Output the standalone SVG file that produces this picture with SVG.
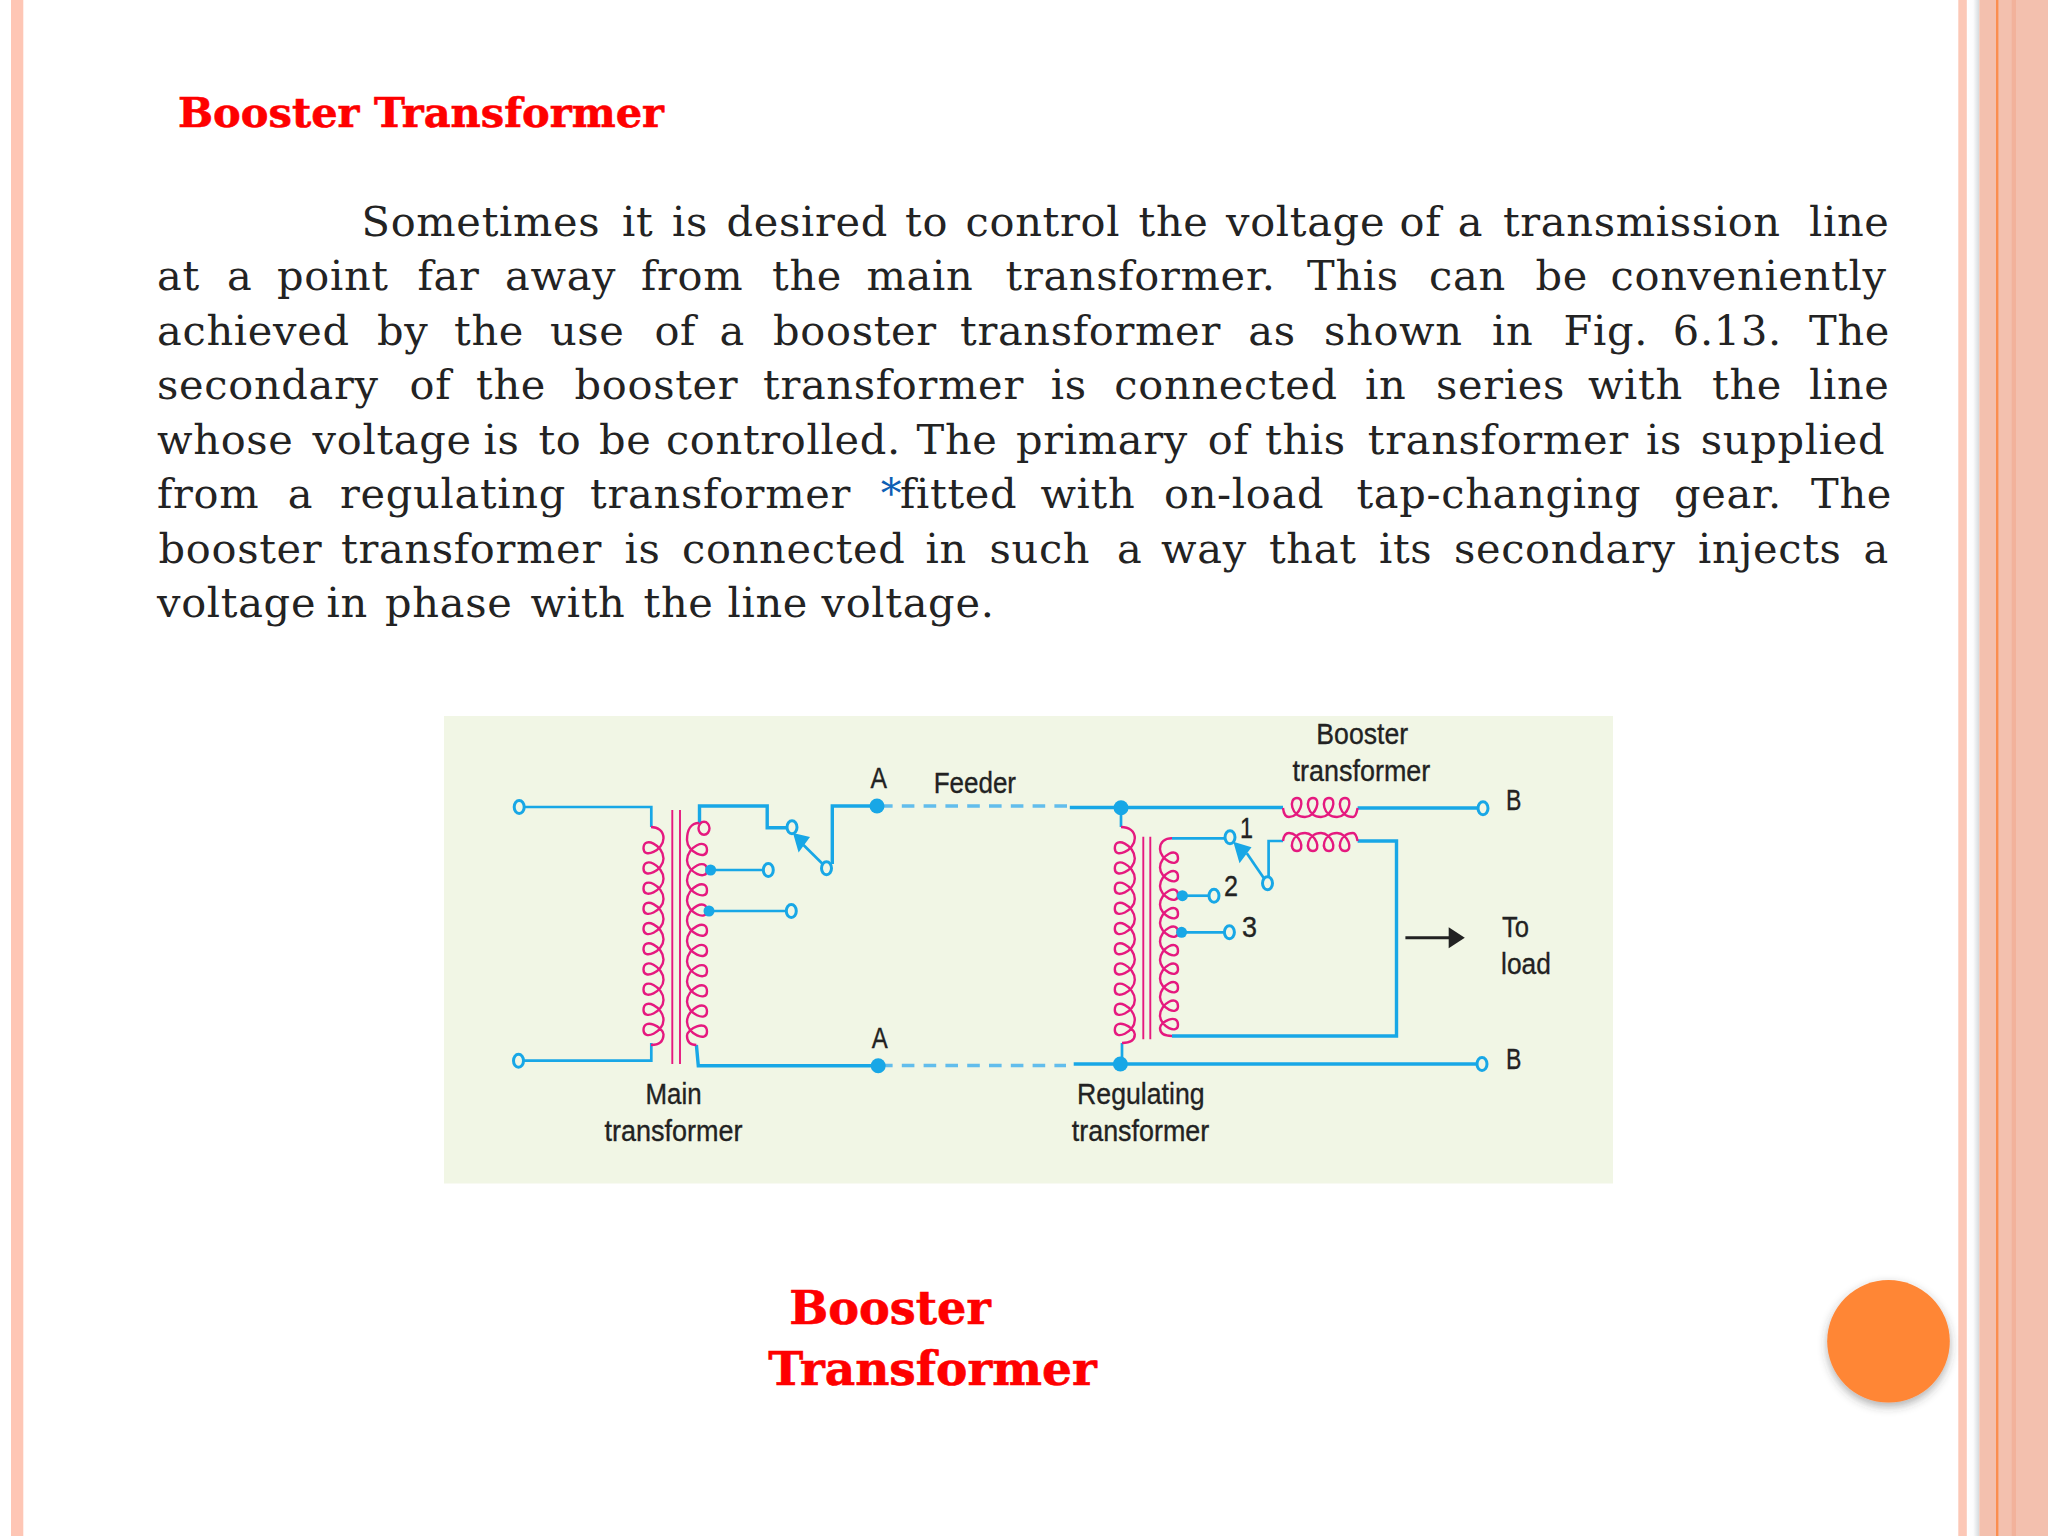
<svg xmlns="http://www.w3.org/2000/svg" width="2048" height="1536" viewBox="0 0 2048 1536">
<style>
.body{font-family:"DejaVu Serif","Liberation Serif",serif;font-size:41.5px;letter-spacing:.7px;fill:#232323}
.red{font-family:"DejaVu Serif","Liberation Serif",serif;font-weight:bold;fill:#fe0000;stroke:#fe0000;stroke-width:.6}
.lbl{font-family:"Liberation Sans",Arial,sans-serif;font-size:30px;fill:#222;stroke:#222;stroke-width:.35}
.w{fill:none;stroke:#18a7e6;stroke-width:2.7;stroke-linejoin:miter}
.wt{fill:none;stroke:#18a7e6;stroke-width:3.4}
.d{fill:none;stroke:#62bdec;stroke-width:3.4;stroke-dasharray:12.6 9.2}
.c{fill:none;stroke:#e5197f;stroke-width:2.4}
.k{fill:none;stroke:#e5197f;stroke-width:1.9}
.t{fill:#f1f6e5;stroke:#18a7e6;stroke-width:3}
.f{fill:#18a7e6}
</style>
<defs>
<linearGradient id="sh" x1="0" x2="1" y1="0" y2="0"><stop offset="0" stop-color="#fff"/><stop offset=".5" stop-color="#fcfcfd"/><stop offset="1" stop-color="#d5dadd"/></linearGradient>
<filter id="ds" x="-30%" y="-30%" width="160%" height="160%"><feDropShadow dx="0" dy="4" stdDeviation="5" flood-color="#3a3a3a" flood-opacity=".4"/></filter>
</defs>
<rect width="2048" height="1536" fill="#fff"/>
<g id="frame">
<rect x="11" y="0" width="12.3" height="1536" fill="#fec6b5"/>
<rect x="1958.3" y="0" width="8.5" height="1536" fill="#fcc8b7"/>
<rect x="1967" y="0" width="12.3" height="1536" fill="url(#sh)"/>
<rect x="1979.3" y="0" width="68.7" height="1536" fill="#f3c0ae"/>
<rect x="1996" y="0" width="2.4" height="1536" fill="#fb8e4f"/>
<rect x="2011.7" y="0" width="4.3" height="1536" fill="#f2b29b"/>
</g>
<circle id="badge" cx="1888.5" cy="1341.3" r="61.3" fill="#ff8635" filter="url(#ds)"/>
<text id="title" class="red" x="178" y="127.3" font-size="41" textLength="486" lengthAdjust="spacingAndGlyphs">Booster Transformer</text>
<g id="paragraph" class="body">
<text y="236"><tspan x="361.5">Sometimes</tspan> <tspan x="622">it</tspan> <tspan x="672">is</tspan> <tspan x="726.5">desired</tspan> <tspan x="905">to</tspan> <tspan x="965.5">control</tspan> <tspan x="1138.5">the</tspan> <tspan x="1226">voltage</tspan> <tspan x="1399.6">of</tspan> <tspan x="1457.8">a</tspan> <tspan x="1502.9">transmission</tspan> <tspan x="1809">line</tspan></text>
<text y="290.4"><tspan x="157">at</tspan> <tspan x="227">a</tspan> <tspan x="277">point</tspan> <tspan x="417.5">far</tspan> <tspan x="505">away</tspan> <tspan x="641">from</tspan> <tspan x="772">the</tspan> <tspan x="866.5">main</tspan> <tspan x="1005.5">transformer.</tspan> <tspan x="1307">This</tspan> <tspan x="1429">can</tspan> <tspan x="1535.5">be</tspan> <tspan x="1610.5">conveniently</tspan></text>
<text y="344.9"><tspan x="157">achieved</tspan> <tspan x="377">by</tspan> <tspan x="454">the</tspan> <tspan x="549.9">use</tspan> <tspan x="654.4">of</tspan> <tspan x="719.4">a</tspan> <tspan x="773">booster</tspan> <tspan x="960">transformer</tspan> <tspan x="1248.2">as</tspan> <tspan x="1324">shown</tspan> <tspan x="1492">in</tspan> <tspan x="1563.5">Fig.</tspan> <tspan x="1672.8">6.13.</tspan> <tspan x="1809">The</tspan></text>
<text y="399.3"><tspan x="157">secondary</tspan> <tspan x="409.5">of</tspan> <tspan x="476">the</tspan> <tspan x="574.5">booster</tspan> <tspan x="763">transformer</tspan> <tspan x="1050.7">is</tspan> <tspan x="1114.3">connected</tspan> <tspan x="1365">in</tspan> <tspan x="1436">series</tspan> <tspan x="1587.9">with</tspan> <tspan x="1712">the</tspan> <tspan x="1809">line</tspan></text>
<text y="453.7"><tspan x="157">whose</tspan> <tspan x="312.6">voltage</tspan> <tspan x="483.5">is</tspan> <tspan x="538.4">to</tspan> <tspan x="599">be</tspan> <tspan x="665.9">controlled.</tspan> <tspan x="916.5">The</tspan> <tspan x="1016">primary</tspan> <tspan x="1207.7">of</tspan> <tspan x="1265">this</tspan> <tspan x="1367.8">transformer</tspan> <tspan x="1646">is</tspan> <tspan x="1700.8">supplied</tspan></text>
<text y="508.2"><tspan x="157">from</tspan> <tspan x="287.8">a</tspan> <tspan x="340">regulating</tspan> <tspan x="590.1">transformer</tspan> <tspan x="880.8" fill="#0f5fb5">*</tspan><tspan x="900">fitted</tspan> <tspan x="1040.4">with</tspan> <tspan x="1164">on-load</tspan> <tspan x="1356.4">tap-changing</tspan> <tspan x="1674">gear.</tspan> <tspan x="1811">The</tspan></text>
<text y="562.6"><tspan x="158.5">booster</tspan> <tspan x="341">transformer</tspan> <tspan x="624.5">is</tspan> <tspan x="682">connected</tspan> <tspan x="925.6">in</tspan> <tspan x="989.5">such</tspan> <tspan x="1117">a</tspan> <tspan x="1161">way</tspan> <tspan x="1268.9">that</tspan> <tspan x="1379">its</tspan> <tspan x="1453.9">secondary</tspan> <tspan x="1698">injects</tspan> <tspan x="1863.4">a</tspan></text>
<text y="617"><tspan x="157">voltage</tspan> <tspan x="326.5">in</tspan> <tspan x="385">phase</tspan> <tspan x="530.5">with</tspan> <tspan x="643.5">the</tspan> <tspan x="727.5">line</tspan> <tspan x="821.5">voltage.</tspan></text>
</g>
<rect id="figure-bg" x="444" y="716" width="1169" height="467.5" fill="#f1f6e5"/>
<g id="connectors">
<path class="w" d="M525,807H651.3V827"/>
<path class="w" d="M524,1060.7H651.3V1043"/>
<path class="wt" d="M699.5,823V806H767.2V827.7H786.3"/>
<path class="wt" d="M696.4,1045L698.3,1065.7H878.2"/>
<path class="w" d="M710.6,870H763.4"/>
<path class="w" d="M709,911H786.3"/>
<path class="w" d="M822.7,864L803.5,845"/>
<path class="wt" d="M832.3,864V806H876.3"/>
<path class="d" d="M880,806H1067"/>
<path class="d" d="M880,1065.5H1066"/>
<path class="wt" d="M1069.8,807.5H1283"/>
<path class="wt" d="M1357.6,808H1478"/>
<path class="wt" d="M1073.7,1064H1476.3"/>
<path class="w" d="M1121,808V827"/>
<path class="w" d="M1122,1043V1064"/>
<path class="w" d="M1172,838.3H1224.5"/>
<path class="wt" d="M1172,1036H1396.5V841H1357.6"/>
<path class="w" d="M1283,841H1268.6V878"/>
<path class="w" d="M1263.9,878.3L1246.8,853.3"/>
<path class="w" d="M1182.4,895.7H1208.4"/>
<path class="w" d="M1181.6,932.3H1223.7"/>
<path d="M1405.4,937.7H1450" fill="none" stroke="#222" stroke-width="3"/>
<polygon points="1464.8,937.7 1448.7,927.3 1448.7,948.3" fill="#222"/>
<polygon class="f" points="793,833 810,837 798.6,852.5"/>
<polygon class="f" points="1233.3,841.7 1251.5,847.3 1239.5,863.3"/>
</g>
<g id="main-transformer">
<path class="c" d="M651,827C658,827 663.5,831 663.5,838.3c0,12 -20,21 -20,10c0,-13 20,-3 20,10.2c0,12 -20,21 -20,10c0,-13 20,-3 20,10.2c0,12 -20,21 -20,10c0,-13 20,-3 20,10.2c0,12 -20,21 -20,10c0,-13 20,-3 20,10.2c0,12 -20,21 -20,10c0,-13 20,-3 20,10.2c0,12 -20,21 -20,10c0,-13 20,-3 20,10.2c0,12 -20,21 -20,10c0,-13 20,-3 20,10.2c0,12 -20,21 -20,10c0,-13 20,-3 20,10.2c0,12 -20,21 -20,10c0,-13 20,-3 20,10.2c0,12 -20,21 -20,10c0,-13 20,-3 20,4.2Q663.5,1045 651,1045"/>
<path class="c" d="M699,823C691,823 687,830 687,840c0,12 20,21 20,10c0,-13 -20,-3 -20,10.2c0,12 20,21 20,10c0,-13 -20,-3 -20,10.2c0,12 20,21 20,10c0,-13 -20,-3 -20,10.2c0,12 20,21 20,10c0,-13 -20,-3 -20,10.2c0,12 20,21 20,10c0,-13 -20,-3 -20,10.2c0,12 20,21 20,10c0,-13 -20,-3 -20,10.2c0,12 20,21 20,10c0,-13 -20,-3 -20,10.2c0,12 20,21 20,10c0,-13 -20,-3 -20,10.2c0,12 20,21 20,10c0,-13 -20,-3 -20,10.2c0,12 20,21 20,10c0,-13 -20,-3 -20,4Q687,1045 696.4,1045"/>
<ellipse class="c" cx="704" cy="828.3" rx="5.5" ry="6.5" stroke-width="3"/>
<path class="k" d="M672.3,810V1064M680,810V1064"/>
<circle class="f" cx="710.6" cy="870" r="5.5"/>
<circle class="f" cx="709" cy="911" r="5.5"/>
<ellipse class="t" cx="519.2" cy="807" rx="5" ry="6.5"/>
<ellipse class="t" cx="518.5" cy="1060.7" rx="5" ry="6.5"/>
<ellipse class="t" cx="792" cy="827.3" rx="5" ry="6.5"/>
<ellipse class="t" cx="768.3" cy="870" rx="5" ry="6.5"/>
<ellipse class="t" cx="791.3" cy="911" rx="5" ry="6.5"/>
<ellipse class="t" cx="826.5" cy="868.3" rx="5" ry="6.5"/>
<text class="lbl" x="645.5" y="1104.3" textLength="56" lengthAdjust="spacingAndGlyphs">Main</text>
<text class="lbl" x="604.6" y="1140.7" textLength="138" lengthAdjust="spacingAndGlyphs">transformer</text>
</g>
<g id="feeder">
<circle class="f" cx="877" cy="806" r="7.5"/>
<circle class="f" cx="878.2" cy="1065.7" r="7.5"/>
<text class="lbl" x="870.5" y="788.3" textLength="16.5" lengthAdjust="spacingAndGlyphs">A</text>
<text class="lbl" x="871.7" y="1048.3" textLength="16" lengthAdjust="spacingAndGlyphs">A</text>
<text class="lbl" x="933.7" y="793.3" textLength="82.3" lengthAdjust="spacingAndGlyphs">Feeder</text>
</g>
<g id="regulating-transformer">
<circle class="f" cx="1121" cy="807.7" r="7.5"/>
<circle class="f" cx="1120.4" cy="1064" r="7.5"/>
<path class="c" d="M1121,827C1129,827 1134.8,831 1134.8,838.3c0,12 -20,21 -20,10c0,-13 20,-3 20,10.2c0,12 -20,21 -20,10c0,-13 20,-3 20,10.2c0,12 -20,21 -20,10c0,-13 20,-3 20,10.2c0,12 -20,21 -20,10c0,-13 20,-3 20,10.2c0,12 -20,21 -20,10c0,-13 20,-3 20,10.2c0,12 -20,21 -20,10c0,-13 20,-3 20,10.2c0,12 -20,21 -20,10c0,-13 20,-3 20,10.2c0,12 -20,21 -20,10c0,-13 20,-3 20,10.2c0,12 -20,21 -20,10c0,-13 20,-3 20,10.2c0,12 -20,21 -20,10c0,-13 20,-3 20,4.2Q1134.8,1043 1122,1043"/>
<path class="c" d="M1172,838.3C1165,838.3 1160,842 1160,849c0,11 18,19.5 18,9.25c0,-12 -18,-3 -18,9.25c0,11 18,19.5 18,9.25c0,-12 -18,-3 -18,9.25c0,11 18,19.5 18,9.25c0,-12 -18,-3 -18,9.25c0,11 18,19.5 18,9.25c0,-12 -18,-3 -18,9.25c0,11 18,19.5 18,9.25c0,-12 -18,-3 -18,9.25c0,11 18,19.5 18,9.25c0,-12 -18,-3 -18,9.25c0,11 18,19.5 18,9.25c0,-12 -18,-3 -18,9.25c0,11 18,19.5 18,9.25c0,-12 -18,-3 -18,9.25c0,11 18,19.5 18,9.25c0,-12 -18,-3 -18,9.25c0,11 18,19.5 18,9.25c0,-12 -18,-3 -18,3.25Q1160,1036 1172,1036"/>
<path class="k" d="M1143.3,836.7V1039.3M1150.3,836.7V1039.3"/>
<circle class="f" cx="1182.4" cy="895.7" r="5.5"/>
<circle class="f" cx="1181.6" cy="932.3" r="5.5"/>
<ellipse class="t" cx="1230" cy="837.3" rx="5" ry="6.5"/>
<ellipse class="t" cx="1214" cy="895.7" rx="5" ry="6.5"/>
<ellipse class="t" cx="1229.4" cy="932.3" rx="5" ry="6.5"/>
<ellipse class="t" cx="1267.5" cy="883.3" rx="5" ry="6.5"/>
<text class="lbl" x="1240" y="838" textLength="13" lengthAdjust="spacingAndGlyphs">1</text>
<text class="lbl" x="1224" y="895.7" textLength="14" lengthAdjust="spacingAndGlyphs">2</text>
<text class="lbl" x="1242" y="936.7" textLength="15" lengthAdjust="spacingAndGlyphs">3</text>
<text class="lbl" x="1077.1" y="1104.3" textLength="127.5" lengthAdjust="spacingAndGlyphs">Regulating</text>
<text class="lbl" x="1071.8" y="1140.7" textLength="137.4" lengthAdjust="spacingAndGlyphs">transformer</text>
</g>
<g id="booster-transformer">
<path class="c" d="M1283,808Q1284,817 1289,817c11,0 17,-19 8,-19c-9,0 -6,19 8,19c11,0 17,-19 8,-19c-9,0 -6,19 8,19c11,0 17,-19 8,-19c-9,0 -6,19 8,19c11,0 17,-19 8,-19c-9,0 -6,19 8,19Q1356,817 1357.6,808"/>
<path class="c" d="M1283,841Q1284,833 1289,833c11,0 17,18 8,18c-9,0 -6,-18 8,-18c11,0 17,18 8,18c-9,0 -6,-18 8,-18c11,0 17,18 8,18c-9,0 -6,-18 8,-18c11,0 17,18 8,18c-9,0 -6,-18 8,-18Q1356,833 1357.6,841"/>
<text class="lbl" x="1316.3" y="744" textLength="91.8" lengthAdjust="spacingAndGlyphs">Booster</text>
<text class="lbl" x="1292.6" y="781" textLength="137.7" lengthAdjust="spacingAndGlyphs">transformer</text>
</g>
<g id="outputs">
<ellipse class="t" cx="1483" cy="808.3" rx="5" ry="6.5"/>
<ellipse class="t" cx="1482" cy="1064" rx="5" ry="6.5"/>
<text class="lbl" x="1506" y="810" textLength="15.4" lengthAdjust="spacingAndGlyphs">B</text>
<text class="lbl" x="1506" y="1069.3" textLength="15.4" lengthAdjust="spacingAndGlyphs">B</text>
<text class="lbl" x="1501.9" y="936.7" textLength="27" lengthAdjust="spacingAndGlyphs">To</text>
<text class="lbl" x="1501.1" y="974" textLength="49.8" lengthAdjust="spacingAndGlyphs">load</text>
</g>
<g id="caption" class="red" font-size="46">
<text x="789.3" y="1324" textLength="201.4" lengthAdjust="spacingAndGlyphs">Booster</text>
<text x="768.3" y="1385" textLength="328.4" lengthAdjust="spacingAndGlyphs">Transformer</text>
</g>
</svg>
